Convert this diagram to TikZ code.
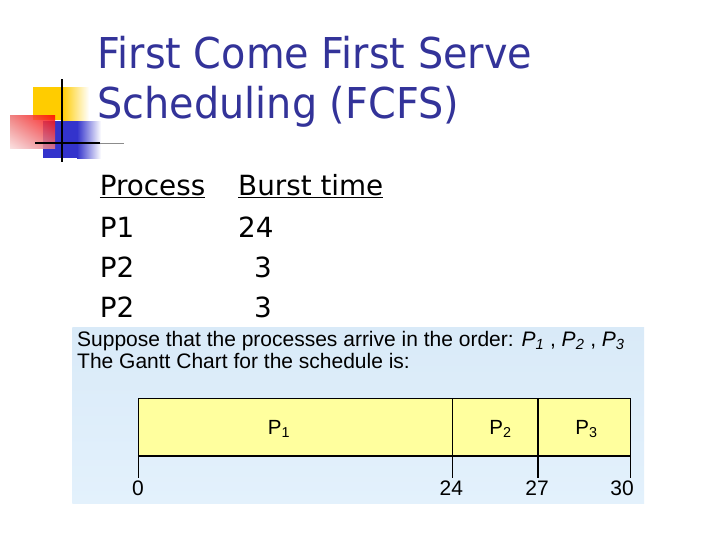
\documentclass[tikz,border=0pt]{standalone}
\usepackage{fontspec}
\usetikzlibrary{shadings}
\setmainfont{Liberation Sans}
\newfontfamily\titlefont{DejaVu Sans}[FakeStretch=0.935]
\newfontfamily\bodyfont{DejaVu Sans}
\definecolor{titleblue}{HTML}{333399}
\definecolor{logoyellow}{HTML}{FFCC00}
\definecolor{logoblue}{HTML}{3333CC}
\definecolor{panelTop}{HTML}{D9EAF8}
\definecolor{panelBot}{HTML}{E3F1FC}
\definecolor{cellyellow}{HTML}{FFFF9E}
\definecolor{redUL}{RGB}{236,110,110}
\definecolor{redLL}{RGB}{250,220,220}
\definecolor{redLR}{RGB}{232,120,130}
\tikzset{
  titletext/.style={anchor=base west,inner sep=0pt,text=titleblue,font=\titlefont\fontsize{42.5}{50}\selectfont},
  bodytext/.style={anchor=base west,inner sep=0pt,font=\bodyfont\fontsize{27.8}{32}\selectfont},
  suptext/.style={anchor=base west,inner sep=0pt,font=\fontsize{21}{24}\selectfont},
  cellname/.style={anchor=base,inner sep=0pt,font=\fontsize{20.5}{22}\selectfont},
  ticklabel/.style={anchor=base,inner sep=0pt,font=\fontsize{21}{22}\selectfont},
  thinln/.style={line width=1pt},
  thickln/.style={line width=1.9pt}
}
\begin{document}
\begin{tikzpicture}[x=1pt,y=-1pt]
\useasboundingbox[fill=white] (0,0) rectangle (728,546);
% logo
\fill[logoyellow] (33.3,87.3) rectangle (62,120);
\shade[left color=logoyellow,right color=white] (62,87.3) rectangle (89,120);
\fill[logoblue] (43.3,121) rectangle (77,158.3);
\shade[left color=logoblue,right color=white] (77,121) rectangle (101,158.3);
\shade[fill opacity=0.85,upper left=redUL,upper right=red,lower left=redLL,lower right=redLR]
  (10,115) rectangle (55,148.3);
\draw[line width=2pt,black] (61.7,79) -- (61.7,162.3);
\draw[line width=1.8pt,black] (35,143.3) -- (100,143.3);
\draw[line width=1.2pt,black!45] (100,143.3) -- (124,143.3);
% title
\node[titletext] (t1) at (97.5,68) {First Come First Serve};
\node[titletext] (t2) at (97.5,118) {Scheduling (FCFS)};
% table
\node[bodytext] (hp) at (99.6,195) {\underline{Process}};
\node[bodytext] (hb) at (238,195) {\underline{Burst time}};
\node[bodytext] (r1a) at (99.6,237.7) {P1};
\node[bodytext] (r1b) at (238,237.7) {24};
\node[bodytext] (r2a) at (99.6,277.7) {P2};
\node[bodytext] (r2b) at (254,277.7) {3};
\node[bodytext] (r3a) at (99.6,317.7) {P2};
\node[bodytext] (r3b) at (254,317.7) {3};
% panel
\shade[top color=panelTop,bottom color=panelBot] (72.3,327.7) rectangle (644,503.3);
\node[suptext] (s1) at (77,346.5) {Suppose that the processes arrive in the order: \textit{P}\textsubscript{\textit{1}} , \textit{P}\textsubscript{\textit{2}} , \textit{P}\textsubscript{\textit{3}}};
\node[suptext] (s2) at (77,368) {The Gantt Chart for the schedule is:};
% gantt cells
\fill[cellyellow] (138.3,398.3) rectangle (630,455.7);
\draw[thinln] (138.3,455.7) -- (138.3,398.3) -- (630,398.3) -- (630,455.7);
\draw[thinln] (452.3,398.3) -- (452.3,455.7);
\draw[thickln] (537.7,398.3) -- (537.7,455.7);
\draw[thickln] (137.8,455.7) -- (630.5,455.7);
\coordinate (c0) at (138.3,455.7);
\coordinate (c24) at (452.3,455.7);
\coordinate (c27) at (537.7,455.7);
\coordinate (c30) at (630,455.7);
\draw[thinln] (c0) -- ++(0,22.5);
\draw[thinln] (c24) -- ++(0,22.5);
\draw[thickln] (c27) -- ++(0,22.5);
\draw[thinln] (c30) -- ++(0,22.5);
\node[cellname] (n1) at (279,434) {P\textsubscript{1}};
\node[cellname] (n2) at (500.5,434) {P\textsubscript{2}};
\node[cellname] (n3) at (586.5,434) {P\textsubscript{3}};
\node[ticklabel] (l0) at (138,495) {0};
\node[ticklabel] (l24) at (451.3,495) {24};
\node[ticklabel] (l27) at (537,495) {27};
\node[ticklabel] (l30) at (622,495) {30};
\end{tikzpicture}
\end{document}
